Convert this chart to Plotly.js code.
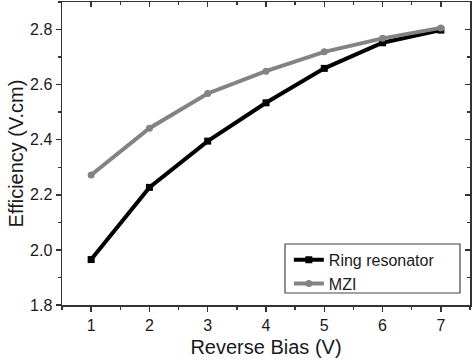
<!DOCTYPE html>
<html>
<head>
<meta charset="utf-8">
<script src="https://cdn.plot.ly/plotly-3.0.1.min.js"></script>
<style>html,body{margin:0;padding:0;background:#fff;}#chart{width:474px;height:361px;}</style>
</head>
<body>
<div id="chart"></div>
<script>
const reverseBias = [1, 2, 3, 4, 5, 6, 7];
const ringResonator = [1.965, 2.227, 2.395, 2.534, 2.659, 2.752, 2.798];
const mzi = [2.272, 2.442, 2.568, 2.649, 2.719, 2.768, 2.806];
const seriesNames = ['Ring resonator', 'MZI'];
const xTitle = 'Reverse Bias (V)';
const yTitle = 'Efficiency (V.cm)';
const yTickVals = [1.8, 2.0, 2.2, 2.4, 2.6, 2.8];
const yTickText = ['1.8', '2.0', '2.2', '2.4', '2.6', '2.8'];

const family = 'Liberation Sans, Arial, Helvetica, sans-serif';
const textColor = '#1a1a1a';
const axisColor = '#333';
const tickFont = {family: family, size: 16, color: textColor};
const titleFont = {family: family, size: 20, color: textColor};

const traces = [
  {x: reverseBias, y: ringResonator, name: seriesNames[0], mode: 'lines+markers',
   line: {color: '#000000', width: 4}, marker: {symbol: 'square', size: 7, color: '#000000'}},
  {x: reverseBias, y: mzi, name: seriesNames[1], mode: 'lines+markers',
   line: {color: '#838383', width: 4}, marker: {symbol: 'circle', size: 7, color: '#838383'}},
  // invisible copy so the mirrored top/right frame axes get drawn
  {x: reverseBias, y: ringResonator, xaxis: 'x2', yaxis: 'y2', mode: 'lines', opacity: 0,
   showlegend: false, hoverinfo: 'skip', line: {width: 0}}
];

const baseAxis = {
  tickwidth: 1.5, tickcolor: axisColor, showline: true, linecolor: axisColor, linewidth: 1.5,
  showgrid: false, zeroline: false
};

const layout = {
  width: 474, height: 361,
  margin: {l: 62, r: 4, t: 2, b: 56},
  paper_bgcolor: '#fff', plot_bgcolor: '#fff',
  font: tickFont,
  showlegend: true,
  legend: {x: 0.556, y: 0.205, xanchor: 'left', yanchor: 'top',
    borderwidth: 0, bgcolor: 'rgba(0,0,0,0)',
    font: {family: family, size: 16, color: textColor}, tracegroupgap: 0},
  shapes: [{type: 'rect', xref: 'paper', yref: 'paper', x0: 0.5466, x1: 0.9755, y0: 0.0396, y1: 0.2013,
    line: {color: '#444', width: 1.2}, fillcolor: 'rgba(0,0,0,0)', layer: 'above'}],
  xaxis: Object.assign({}, baseAxis, {range: [0.5, 7.5], tickvals: reverseBias, ticks: 'outside', ticklen: 5,
    minor: {ticks: 'outside', dtick: 0.5, tick0: 0.5, ticklen: 3, tickcolor: axisColor, tickwidth: 1.5, showgrid: false},
    title: {text: xTitle, font: titleFont, standoff: 7},
    tickfont: tickFont}),
  yaxis: Object.assign({}, baseAxis, {range: [1.8, 2.9], tickvals: yTickVals, ticktext: yTickText,
    ticks: 'outside', ticklen: 5,
    minor: {ticks: 'outside', dtick: 0.1, tick0: 1.8, ticklen: 3, tickcolor: axisColor, tickwidth: 1.5, showgrid: false},
    title: {text: yTitle, font: titleFont, standoff: 1},
    tickfont: tickFont}),
  xaxis2: Object.assign({}, baseAxis, {overlaying: 'x', side: 'top', anchor: 'y2', range: [0.5, 7.5], tickvals: reverseBias,
    ticks: 'inside', ticklen: 5, showticklabels: false,
    minor: {ticks: 'inside', dtick: 0.5, tick0: 0.5, ticklen: 3, tickcolor: axisColor, tickwidth: 1.5, showgrid: false}}),
  yaxis2: Object.assign({}, baseAxis, {overlaying: 'y', side: 'right', anchor: 'x2', range: [1.8, 2.9], tickvals: yTickVals,
    ticks: 'inside', ticklen: 5, showticklabels: false,
    minor: {ticks: 'inside', dtick: 0.1, tick0: 1.8, ticklen: 3, tickcolor: axisColor, tickwidth: 1.5, showgrid: false}})
};

Plotly.newPlot('chart', traces, layout, {staticPlot: true, displayModeBar: false});
</script>
</body>
</html>
